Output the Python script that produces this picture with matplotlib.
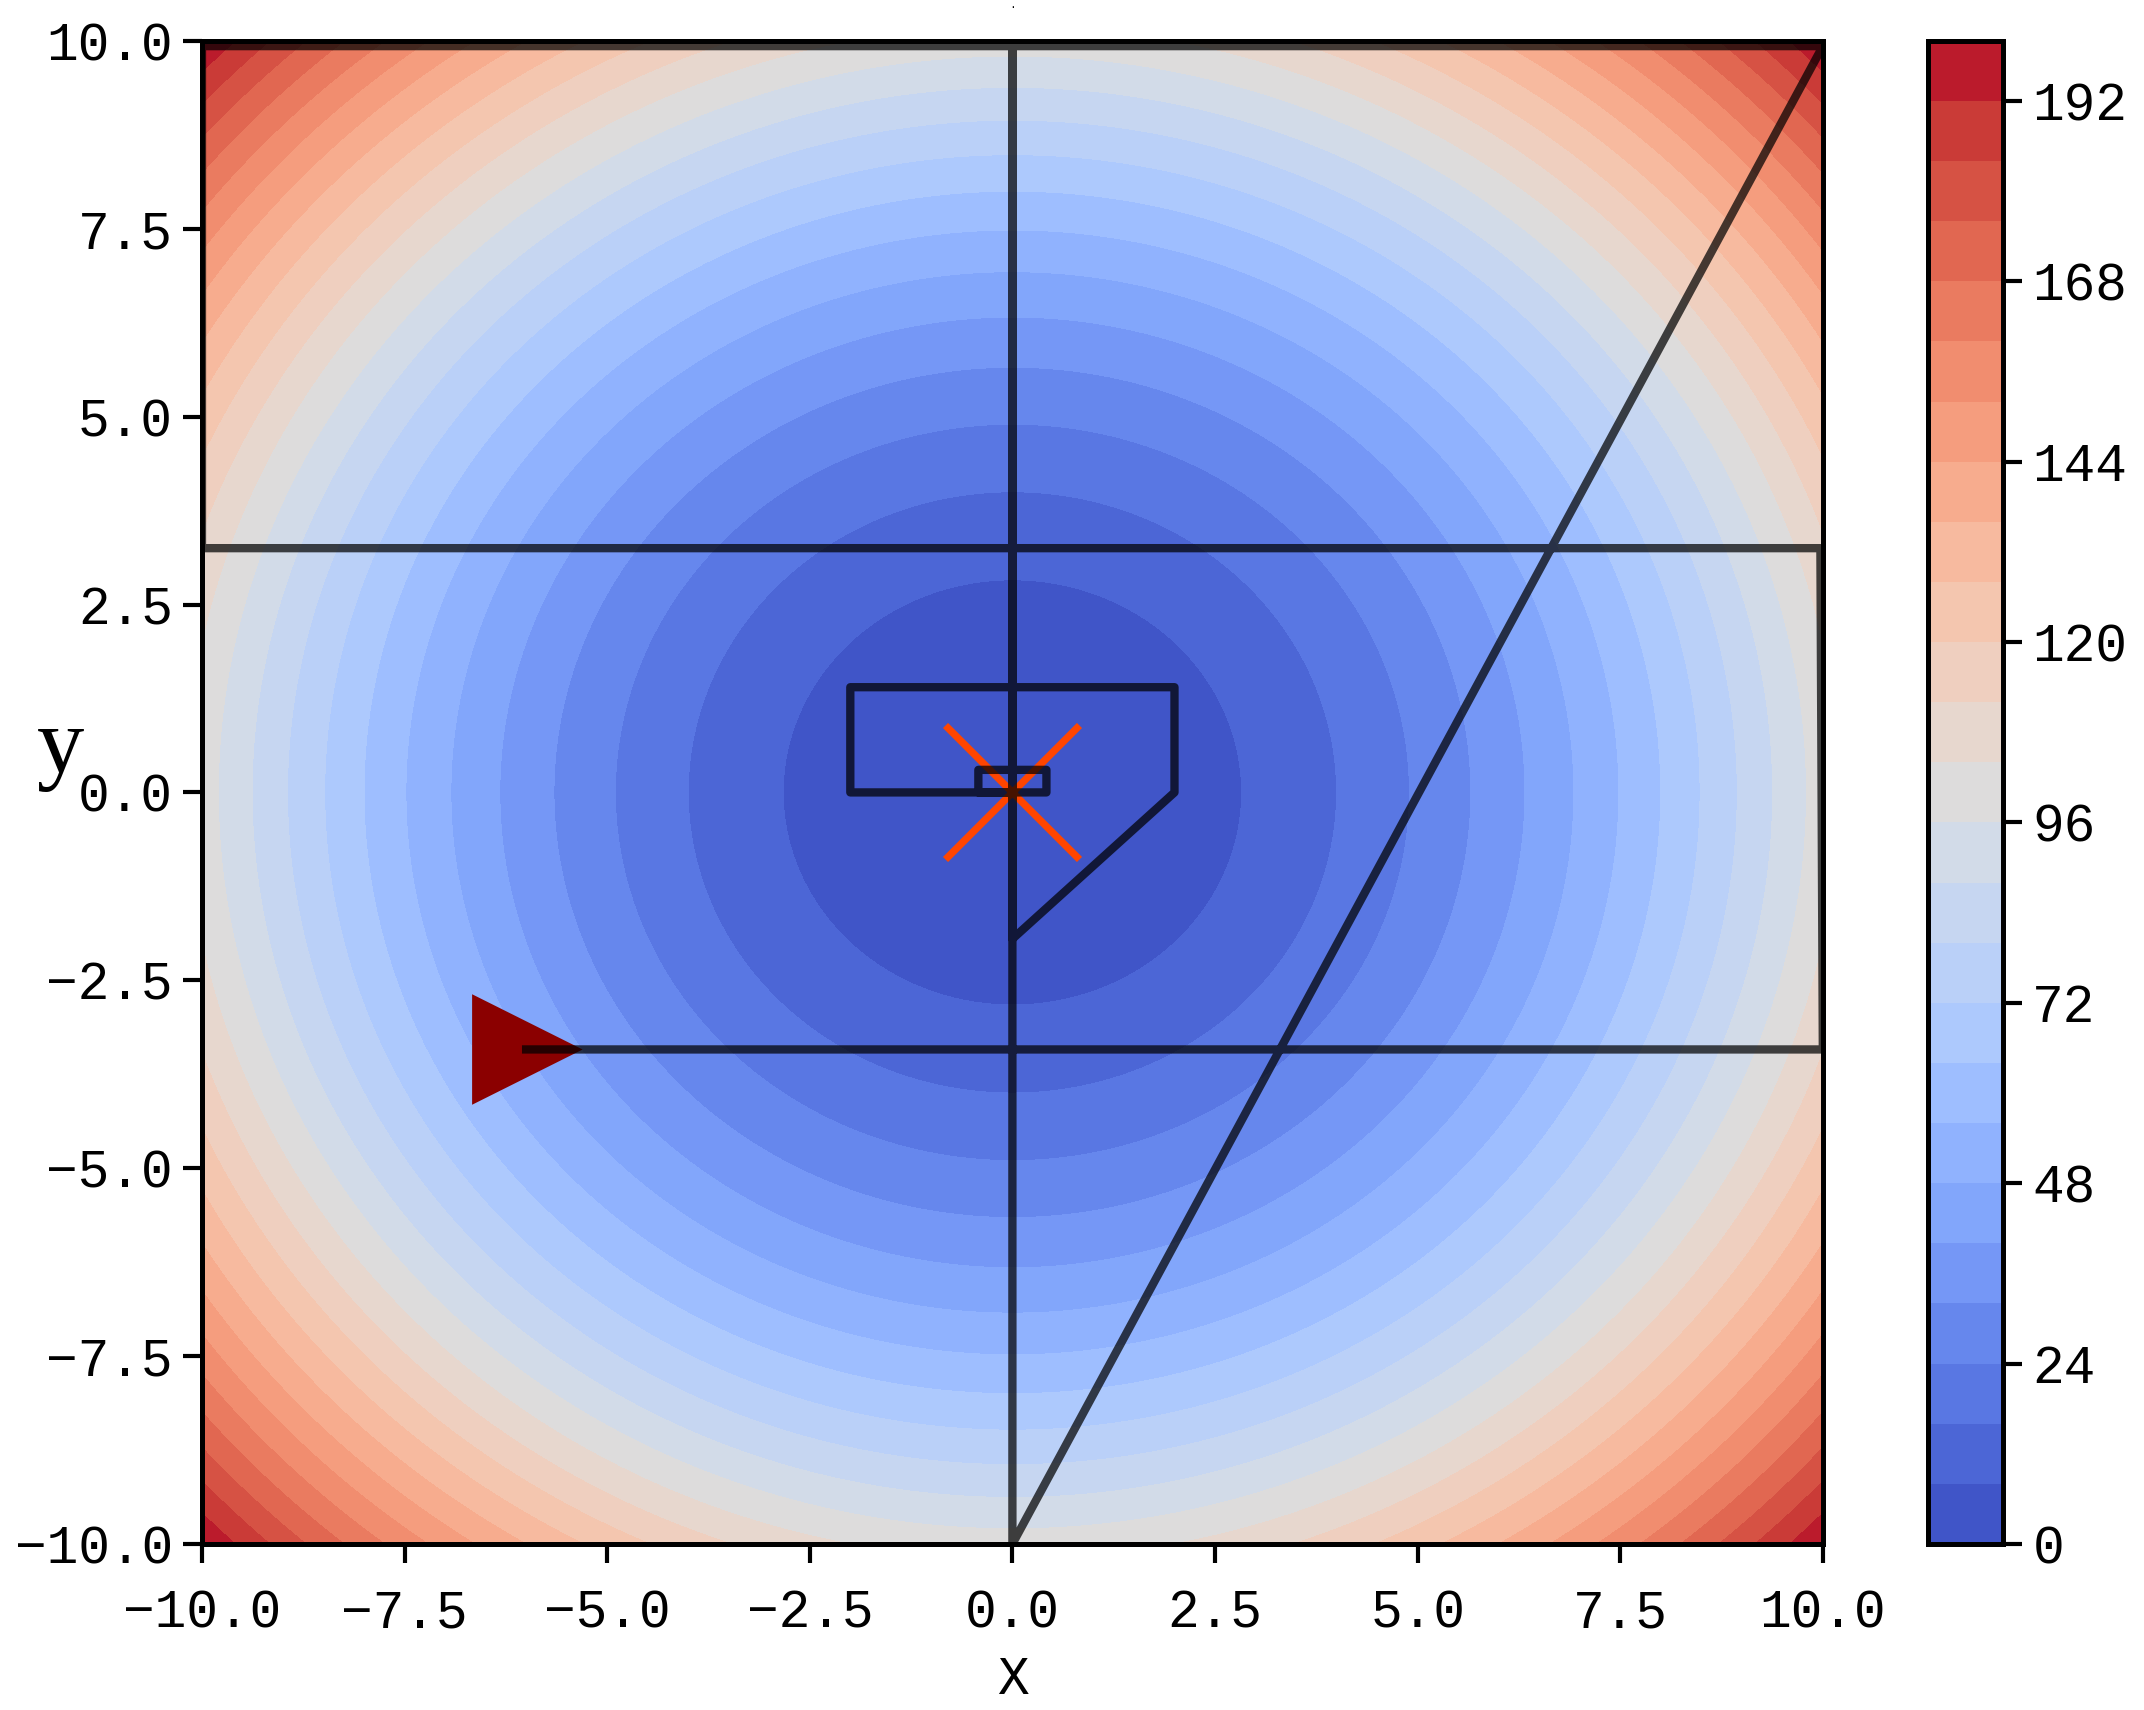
import numpy as np
import matplotlib
matplotlib.use("Agg")
import matplotlib.pyplot as plt

# trajectory
path_x = [-6.0, 10.0, 9.97, -10.0, -10.0, 10.0, 0.0, 0.0, 0.0, 2.0, 2.0, -2.0, -2.0, 0.42, 0.42, -0.42, -0.42, 0.0]
path_y = [-3.42, -3.42, 3.25, 3.25, 9.93, 9.93, -10.0, 9.93, -1.95, 0.0, 1.4, 1.4, 0.0, 0.0, 0.3, 0.3, 0.0, 0.0]
start = (-6.0, -3.42)
minimum = (0.0, 0.0)

levels = np.arange(0, 201, 8)
cbar_ticks = [0, 24, 48, 72, 96, 120, 144, 168, 192]
axis_ticks = [-10.0, -7.5, -5.0, -2.5, 0.0, 2.5, 5.0, 7.5, 10.0]

plt.rcParams['font.family'] = ['Liberation Mono', 'DejaVu Sans Mono']

fig = plt.figure(figsize=(10.72, 8.55), dpi=200)
ax = fig.add_axes([0.0942, 0.0971, 0.756, 0.879])
cax = fig.add_axes([0.8993, 0.0971, 0.035, 0.879])

x = np.linspace(-10, 10, 400)
X, Y = np.meshgrid(x, x)
Z = X ** 2 + Y ** 2
cs = ax.contourf(X, Y, Z, levels=levels, cmap='coolwarm')

ax.plot(*start, marker='>', color='darkred', ms=38, zorder=3)
ax.plot(*minimum, marker='x', color='orangered', ms=48, mew=2.6, zorder=3)
ax.plot(path_x, path_y, color='k', alpha=0.72, lw=3.0, zorder=4)

ax.set_xlim(-10, 10)
ax.set_ylim(-10, 10)
ax.set_xticks(axis_ticks)
ax.set_yticks(axis_ticks)
ax.tick_params(labelsize=19, length=7, width=1.5)
ax.tick_params(axis='x', pad=9)
for s in ax.spines.values():
    s.set_linewidth(1.8)

ax.set_xlabel('X', fontsize=19, labelpad=6)
ax.set_ylabel('y', fontsize=34, rotation=0, family='Liberation Serif', labelpad=0)
ax.yaxis.set_label_coords(-0.087, 0.5)
ax.set_title('.', fontsize=4, pad=12)

cb = fig.colorbar(cs, cax=cax, ticks=cbar_ticks)
cb.ax.tick_params(labelsize=19, length=7, width=1.5)
cb.outline.set_linewidth(1.8)

fig.savefig('out.png', dpi=200)
